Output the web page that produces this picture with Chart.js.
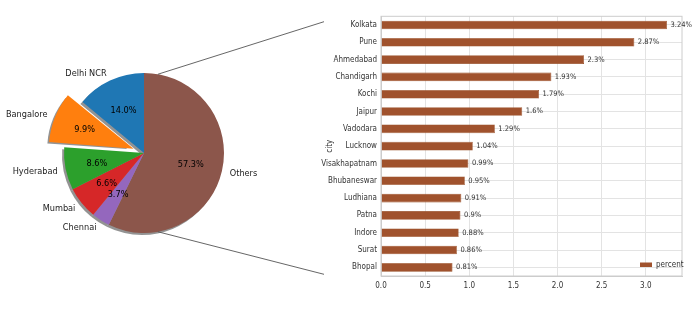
<!DOCTYPE html>
<html>
<head>
<meta charset="utf-8">
<script src="https://cdn.jsdelivr.net/npm/chart.js@4.4.0/dist/chart.umd.min.js"></script>
<style>
    body { margin: 0; background: #fff; }
    #wrap { position: relative; width: 693px; height: 312px; }
    #pieChart { position: absolute; left: 0; top: 0; }
    #barChart { position: absolute; left: 320px; top: 0; }
</style>
</head>
<body>
<div id="wrap">
    <canvas id="pieChart" width="693" height="312"></canvas>
    <canvas id="barChart" width="373" height="312"></canvas>
</div>
<script>
// pie: drawn clockwise from 12 o'clock
const pieLabels = ["Others", "Chennai", "Mumbai", "Hyderabad", "Bangalore", "Delhi NCR"];
const pieShares = [57.3, 3.7, 6.6, 8.6, 9.9, 14.0];
const pieColors = ["#8c564b", "#9467bd", "#d62728", "#2ca02c", "#ff7f0e", "#1f77b4"];

// bar: remaining cities
const cities = ["Kolkata", "Pune", "Ahmedabad", "Chandigarh", "Kochi", "Jaipur", "Vadodara", "Lucknow",
    "Visakhapatnam", "Bhubaneswar", "Ludhiana", "Patna", "Indore", "Surat", "Bhopal"];
const cityPercent = [3.24, 2.87, 2.3, 1.93, 1.79, 1.6, 1.29, 1.04, 0.99, 0.95, 0.91, 0.9, 0.88, 0.86, 0.81];
const xTicks = [0, 0.5, 1.0, 1.5, 2.0, 2.5, 3.0];

const narrowFont = "'Liberation Sans Narrow', 'DejaVu Sans Condensed', 'Liberation Sans', sans-serif";
const pieFont = "8.2px 'DejaVu Sans', sans-serif";

function wedgeGeometry(arc) {
    const p = arc.getProps(["x", "y", "startAngle", "endAngle", "outerRadius", "circumference"], true);
    const mid = (p.startAngle + p.endAngle) / 2;
    // same shift that ArcElement.draw applies for `offset`
    const o = (arc.options.offset || 0) / 4;
    const fix = 1 - Math.sin(Math.min(Math.PI, p.circumference || 0));
    const shift = o + o * fix;
    return {
        cx: p.x + Math.cos(mid) * shift,
        cy: p.y + Math.sin(mid) * shift,
        mid: mid,
        r: p.outerRadius,
        start: p.startAngle,
        end: p.endAngle
    };
}

const pieDecor = {
    id: "pieDecor",
    beforeDatasetsDraw(chart) {
        const ctx = chart.ctx;
        ctx.save();
        ctx.fillStyle = "rgba(40, 40, 40, 0.5)";
        chart.getDatasetMeta(0).data.forEach(arc => {
            const g = wedgeGeometry(arc);
            ctx.beginPath();
            ctx.moveTo(g.cx - 2, g.cy + 2);
            ctx.arc(g.cx - 2, g.cy + 2, g.r, g.start, g.end);
            ctx.closePath();
            ctx.fill();
        });
        ctx.restore();
    },
    afterDatasetsDraw(chart) {
        const ctx = chart.ctx;
        const arcs = chart.getDatasetMeta(0).data;
        ctx.save();
        ctx.font = pieFont;
        ctx.textBaseline = "middle";
        arcs.forEach((arc, i) => {
            const g = wedgeGeometry(arc);
            const c = Math.cos(g.mid), s = Math.sin(g.mid);
            ctx.fillStyle = "#222";
            ctx.textAlign = c > 0 ? "left" : "right";
            ctx.fillText(pieLabels[i], g.cx + c * g.r * 1.1, g.cy + s * g.r * 1.1 + 1);
            ctx.fillStyle = "#000";
            ctx.textAlign = "center";
            ctx.fillText(pieShares[i].toFixed(1) + "%", g.cx + c * g.r * 0.6, g.cy + s * g.r * 0.6 + 1);
        });

        // connector lines towards the bar chart
        const g0 = wedgeGeometry(arcs[0]);
        const a1 = -Math.PI / 2 + 0.175, a2 = Math.PI / 2 - 0.175;
        ctx.strokeStyle = "#555";
        ctx.lineWidth = 0.9;
        ctx.beginPath();
        ctx.moveTo(g0.cx + Math.cos(a1) * g0.r, g0.cy + Math.sin(a1) * g0.r);
        ctx.lineTo(324, 21.7);
        ctx.moveTo(g0.cx + Math.cos(a2) * g0.r, g0.cy + Math.sin(a2) * g0.r);
        ctx.lineTo(324, 274.3);
        ctx.stroke();
        ctx.restore();
    }
};

new Chart(document.getElementById("pieChart"), {
    type: "pie",
    data: {
        labels: pieLabels,
        datasets: [{
            data: pieShares,
            backgroundColor: pieColors,
            borderWidth: 0,
            offset: [0, 0, 0, 0, 45, 0]
        }]
    },
    options: {
        responsive: false,
        animation: false,
        radius: 80,
        layout: { padding: { left: 0, top: 0, right: 405, bottom: 6 } },
        plugins: {
            legend: { display: false },
            tooltip: { enabled: false }
        }
    },
    plugins: [pieDecor]
});

const barDecor = {
    id: "barDecor",
    afterDatasetsDraw(chart) {
        const ctx = chart.ctx;
        const area = chart.chartArea;
        ctx.save();
        ctx.strokeStyle = "#cccccc";
        ctx.lineWidth = 1;
        ctx.strokeRect(area.left, area.top, area.right - area.left, area.bottom - area.top);

        ctx.font = "7.5px " + narrowFont;
        ctx.fillStyle = "#333";
        ctx.textAlign = "left";
        ctx.textBaseline = "middle";
        chart.getDatasetMeta(0).data.forEach((bar, i) => {
            ctx.fillText(String(cityPercent[i]) + "%", bar.x + 3.5, bar.y);
        });

        // legend inside the plot, lower right
        const ds = chart.data.datasets[0];
        ctx.font = "8px " + narrowFont;
        ctx.fillStyle = ds.backgroundColor;
        ctx.fillRect(area.right - 42, area.bottom - 13.5, 12, 4.5);
        ctx.fillStyle = "#333";
        ctx.fillText(ds.label, area.right - 26, area.bottom - 11);
        ctx.restore();
    }
};

new Chart(document.getElementById("barChart"), {
    type: "bar",
    data: {
        labels: cities,
        datasets: [{
            label: "percent",
            data: cityPercent,
            backgroundColor: "#a0522d",
            borderColor: "#93481f",
            borderWidth: 0.6,
            barPercentage: 0.5,
            categoryPercentage: 1
        }]
    },
    options: {
        indexAxis: "y",
        responsive: false,
        animation: false,
        layout: { padding: { left: 0, top: 16.3, right: 11, bottom: 0 } },
        plugins: {
            legend: { display: false },
            tooltip: { enabled: false }
        },
        scales: {
            x: {
                min: 0,
                max: 3.41,
                afterFit: scale => { scale.height = 36; },
                afterBuildTicks: scale => { scale.ticks = xTicks.map(v => ({ value: v })); },
                grid: { color: "#e3e3e3", drawTicks: false },
                border: { color: "#cccccc" },
                ticks: {
                    padding: 5,
                    color: "#333",
                    font: { family: narrowFont, size: 8 },
                    callback: v => Number(v).toFixed(1)
                }
            },
            y: {
                afterFit: scale => { scale.width = 61; },
                grid: { color: "#e3e3e3", drawTicks: false, offset: false },
                border: { color: "#cccccc" },
                ticks: {
                    padding: 4,
                    color: "#333",
                    font: { family: narrowFont, size: 8 }
                },
                title: {
                    display: true,
                    text: "city",
                    color: "#333",
                    font: { family: narrowFont, size: 8 },
                    padding: { top: 5, bottom: 0 }
                }
            }
        }
    },
    plugins: [barDecor]
});
</script>
</body>
</html>
